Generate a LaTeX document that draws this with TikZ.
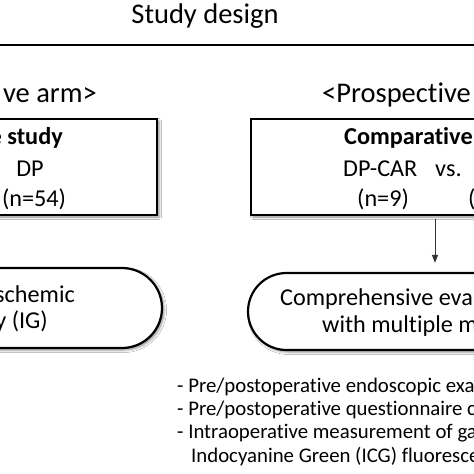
\documentclass[tikz,border=0pt]{standalone}
\usepackage{fontspec}
\setmainfont{Carlito}[Ligatures=CommonOff]
\usetikzlibrary{shapes.misc,shadows.blur,arrows.meta}
\begin{document}
\begin{tikzpicture}[x=1pt,y=-1pt,
  lbl/.style={inner sep=0pt, font=\fontsize{28.5}{34}\selectfont},
  txt/.style={inner sep=0pt, font=\fontsize{24.2}{29}\selectfont},
  boldtxt/.style={inner sep=0pt, font=\fontsize{24.3}{29}\selectfont\bfseries},
  bul/.style={inner sep=0pt, font=\fontsize{20.8}{24}\selectfont},
  shad/.style={blur shadow={shadow xshift=2pt, shadow yshift=-2pt, shadow blur radius=2.5pt, shadow opacity=45}},
  boxs/.style={draw, line width=2.5pt, fill=white, rectangle, inner sep=0pt, shad},
  pill/.style={draw, line width=2.2pt, fill=white, rounded rectangle, inner sep=0pt, shad},
  arr/.style={draw=black!80, line width=1pt, -{Triangle[width=6pt,length=8pt]}}
]
\useasboundingbox (0,0) rectangle (474,474);
\clip (0,0) rectangle (474,474);
\fill[white] (0,0) rectangle (474,474);

% title and rule
\node[lbl, anchor=base] (title) at (205,23) {Study design};
\coordinate (hl) at (-5,45);
\coordinate (hr) at (480,45);
\draw[line width=2.5pt] (hl) -- (hr);

% arm labels
\node[lbl, anchor=base east] (larm) at (97,102) {ve arm>};
\node[lbl, anchor=base west] (rarm) at (322,102) {<Prospective};

% boxes
\node[boxs, minimum width=257pt, minimum height=96pt] (lbox) at (28.5,167) {};
\node[boxs, minimum width=349pt, minimum height=96pt] (rbox) at (425.5,167) {};

\node[boldtxt, anchor=base east] (lst) at (63,144) {e study};
\node[txt, anchor=base] (ldp) at (30,176) {DP};
\node[txt, anchor=base] (ln) at (34,206) {(n=54)};

\node[boldtxt, anchor=base west] (rst) at (344,144) {Comparative};
\node[txt, anchor=base west] (rdp) at (343,176) {DP-CAR};
\node[txt, anchor=base west] (rvs) at (435,176) {vs.};
\node[txt, anchor=base west] (rn) at (357,206) {(n=9)};
\node[txt, anchor=base west] (rn2) at (468,206) {(};

% pills
\node[pill, minimum width=412pt, minimum height=80pt] (lpill) at (-44,308) {};
\node[pill, minimum width=452pt, minimum height=77pt] (rpill) at (474,311.5) {};

\node[txt, anchor=base east] (lig1) at (75,302) {schemic};
\node[txt, anchor=base east] (lig2) at (48,328) {y (IG)};
\node[txt, anchor=base west] (ev1) at (280,305) {Comprehensive eval};
\node[txt, anchor=base west] (ev2) at (322,332) {with multiple m};

% arrow
\coordinate (ax) at (435,0);
\draw[arr] ([yshift=-3pt]rbox.south -| ax) -- ([yshift=9pt]rpill.north -| ax);

% bullet list
\node[bul, anchor=base west] (b1) at (177,392) {- Pre/postoperative endoscopic exa};
\node[bul, anchor=base west] (b2) at (177,415) {- Pre/postoperative questionnaire c};
\node[bul, anchor=base west] (b3) at (177,438) {- Intraoperative measurement of ga};
\node[bul, anchor=base west] (b4) at (191,462) {Indocyanine Green (ICG) fluoresce};
\end{tikzpicture}
\end{document}
